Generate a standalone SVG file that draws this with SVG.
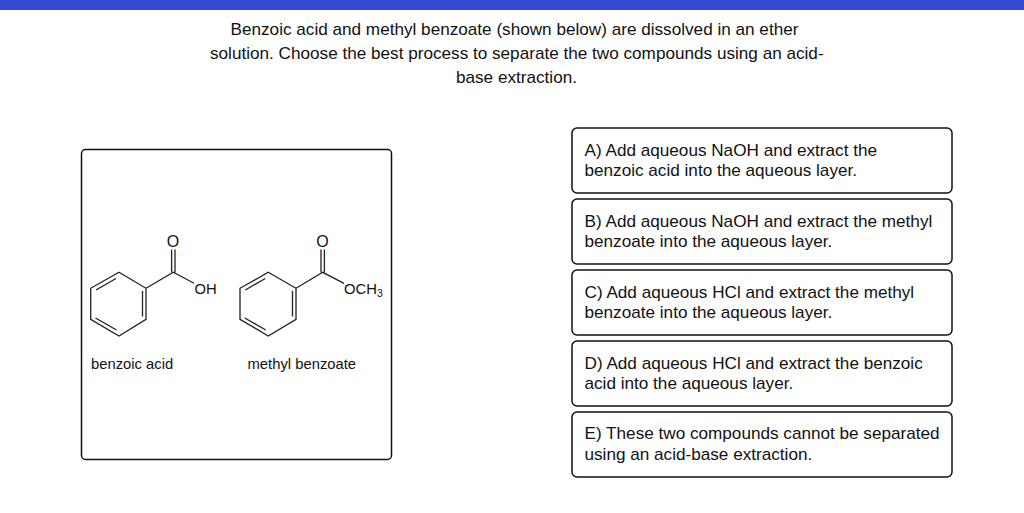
<svg xmlns="http://www.w3.org/2000/svg" width="1024" height="513" viewBox="0 0 1024 513">
<style>
text{font-family:"Liberation Sans",Arial,sans-serif;fill:#111}
.q{font-size:17.150px;text-anchor:middle}
.a{font-size:17.150px}
.l{font-size:14.800px}
.o{font-size:16px;text-anchor:middle}
.box{fill:#fff;stroke:#111;stroke-width:1.5}
.b{fill:none;stroke:#222;stroke-width:1.3}
</style>
<rect width="1024" height="513" fill="#fff"/>
<rect width="1024" height="10" fill="#3549d3"/>
<g id="question">
<text class="q" x="514.500" y="35">Benzoic acid and methyl benzoate (shown below) are dissolved in an ether</text>
<text class="q" x="516.800" y="59">solution. Choose the best process to separate the two compounds using an acid-</text>
<text class="q" x="516.500" y="83">base extraction.</text>
</g>
<g id="structure-panel">
<rect class="box" x="81.500" y="149.500" width="310" height="310" rx="4"/>
</g>
<g id="benzoic-acid">
<path class="b" d="M119 272.300L146 288.300V319.300L119 336L90.700 319.300V288.300ZM116 278.500L96 290M142.500 291V316.500M116.500 330L95.500 318M146 288.300L173.300 272.300L194 283.300M171.600 272.300V249.500M175 272.300V249.500"/>
<text class="o" x="173" y="247">O</text>
<text class="l" x="194.500" y="294">OH</text>
<text class="l" x="91" y="369">benzoic acid</text>
</g>
<g id="methyl-benzoate">
<path class="b" d="M268.300 272.300L296 288.300V319.300L268.300 336L240 319.300V288.300ZM265.300 278.500L245.300 290M292.500 291V316.500M265.800 330L244.800 318M296 288.300L322.700 272.300L344 283.300M321 272.300V249.500M324.400 272.300V249.500"/>
<text class="o" x="322.500" y="247">O</text>
<text class="l" x="344" y="294">OCH<tspan font-size="10.500" dy="3">3</tspan></text>
<text class="l" x="247.500" y="369">methyl benzoate</text>
</g>
<g id="option-a">
<rect class="box" x="572" y="128" width="380" height="65" rx="5"/>
<text class="a" x="584.500" y="156">A) Add aqueous NaOH and extract the</text>
<text class="a" x="584.500" y="176">benzoic acid into the aqueous layer.</text>
</g>
<g id="option-b">
<rect class="box" x="572" y="199" width="380" height="65" rx="5"/>
<text class="a" x="584.500" y="227">B) Add aqueous NaOH and extract the methyl</text>
<text class="a" x="584.500" y="247">benzoate into the aqueous layer.</text>
</g>
<g id="option-c">
<rect class="box" x="572" y="270" width="380" height="65" rx="5"/>
<text class="a" x="584.500" y="298">C) Add aqueous HCl and extract the methyl</text>
<text class="a" x="584.500" y="318">benzoate into the aqueous layer.</text>
</g>
<g id="option-d">
<rect class="box" x="572" y="341" width="380" height="65" rx="5"/>
<text class="a" x="584.500" y="369">D) Add aqueous HCl and extract the benzoic</text>
<text class="a" x="584.500" y="389">acid into the aqueous layer.</text>
</g>
<g id="option-e">
<rect class="box" x="572" y="412" width="380" height="65" rx="5"/>
<text class="a" x="584.500" y="439">E) These two compounds cannot be separated</text>
<text class="a" x="584.500" y="459.500">using an acid-base extraction.</text>
</g>
</svg>
